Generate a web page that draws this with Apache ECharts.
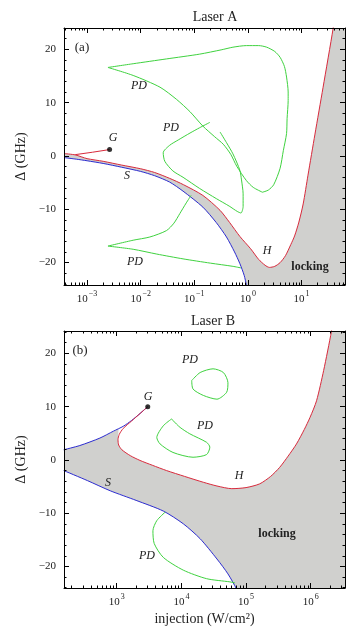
<!DOCTYPE html>
<html><head><meta charset="utf-8">
<script src="https://cdn.jsdelivr.net/npm/echarts@6/dist/echarts.min.js"></script>
<style>html,body{margin:0;padding:0;background:#fff}#c{width:361px;height:632px}</style>
</head><body><div id="c"></div>
<script>
// ---- data: x values are log10(injection), y values are detuning Δ in GHz ----
const xMajorA = [-3, -2, -1, 0, 1];
const xMajorB = [3, 4, 5, 6];
const yMajor = [-20, -10, 0, 10, 20];
const yMinor = [-24, -22, -18, -16, -14, -12, -8, -6, -4, -2, 2, 4, 6, 8, 12, 14, 16, 18, 22, 24];

// Laser A
const gPointA = [[-2.58, 1.2]];
const gBranchA = [[-2.58, 1.2], [-2.9, 0.7], [-3.22, 0.25]];
const redA = [[-3.43, 0.45], [-3.22, 0.2], [-3.0, -0.5], [-2.7, -1.0], [-2.36, -1.7], [-2.0, -2.4], [-1.74, -3.1],
  [-1.46, -4.2], [-1.2, -5.4], [-0.84, -7.4], [-0.52, -10.2], [-0.34, -12.5], [-0.15, -15.1], [0.05, -17.4],
  [0.20, -19.4], [0.32, -20.5], [0.40, -20.9], [0.50, -20.7], [0.60, -20.0], [0.70, -18.7], [0.80, -16.6],
  [0.87, -15.0], [0.95, -12.4], [1.03, -9.0], [1.12, -3.6], [1.25, 4.1], [1.40, 12.8], [1.59, 24.0], [1.68, 30], [1.9, 30]];
const blueA = [[-3.43, -0.3], [-3.2, -0.6], [-3.0, -0.9], [-2.7, -1.4], [-2.36, -2.1], [-2.0, -2.9], [-1.74, -3.7],
  [-1.46, -4.9], [-1.21, -6.6], [-0.84, -9.6], [-0.59, -12.5], [-0.40, -15.2], [-0.25, -18.0], [-0.15, -20.2],
  [-0.07, -22.4], [-0.03, -24.2], [0.0, -26]];
const pd1UpperA = [[-2.61, 16.6], [-2.14, 17.3], [-1.52, 18.2], [-0.90, 19.1], [-0.50, 19.9], [-0.28, 20.4], [-0.03, 20.7],
  [0.20, 20.7], [0.35, 20.4], [0.50, 19.6], [0.60, 18.5], [0.68, 16.8], [0.72, 14.8], [0.75, 12.0], [0.75, 10.4],
  [0.73, 7.0], [0.72, 4.2], [0.66, 1.0], [0.60, -2.3], [0.48, -5.4], [0.38, -6.4], [0.27, -6.8]];
const pd1LowerA = [[-2.61, 16.6], [-2.14, 15.1], [-1.64, 12.9], [-1.33, 10.6], [-1.08, 8.3], [-0.84, 5.6], [-0.62, 3.6],
  [-0.46, 2.2], [-0.32, 0.3], [-0.21, -1.9], [-0.03, -4.6], [0.10, -5.9], [0.27, -6.8]];
const pd2A = [[-0.71, 6.3], [-0.90, 5.3], [-1.08, 4.3], [-1.30, 3.0], [-1.46, 2.0], [-1.58, 0.6], [-1.55, -1.0],
  [-1.40, -2.8], [-1.21, -4.0], [-0.90, -6.1], [-0.59, -8.0], [-0.35, -9.4], [-0.20, -10.4], [-0.13, -10.7],
  [-0.09, -9.5], [-0.09, -7.1], [-0.12, -4.5], [-0.15, -2.7], [-0.28, 0.4], [-0.40, 2.5], [-0.52, 4.5]];
const pd3UpperA = [[-2.61, -16.9], [-2.14, -15.8], [-1.83, -15.2], [-1.52, -14.0], [-1.38, -12.6], [-1.27, -10.8],
  [-1.15, -8.8], [-1.06, -7.4]];
const pd3LowerA = [[-2.61, -16.9], [-2.14, -17.5], [-1.70, -18.4], [-1.21, -19.3], [-0.70, -20.1], [-0.28, -20.7], [-0.13, -21.0]];

// Laser B
const gPointB = [[3.48, 10.0]];
const redB = [[3.48, 10.0], [3.36, 8.7], [3.23, 7.3], [3.10, 5.9], [3.04, 4.8], [3.02, 3.8], [3.03, 2.8], [3.08, 1.9],
  [3.21, 0.8], [3.36, -0.1], [3.55, -1.0], [3.77, -2.0], [4.05, -3.1], [4.34, -4.2], [4.55, -4.9], [4.78, -5.4],
  [5.0, -5.2], [5.21, -4.5], [5.38, -3.1], [5.52, -1.4], [5.65, 0.7], [5.78, 3.0], [5.90, 5.7], [5.99, 8.0],
  [6.09, 11.1], [6.20, 16.8], [6.32, 24.1], [6.40, 30], [6.7, 30]];
const blueUpperB = [[2.18, 1.9], [2.43, 2.7], [2.74, 4.1], [2.95, 5.4], [3.10, 6.3], [3.23, 7.4], [3.36, 8.7], [3.48, 10.0]];
const blueSB = [[2.18, -2.0], [2.55, -3.9], [2.9, -5.8], [3.3, -7.6], [3.72, -9.6], [4.03, -12.0], [4.29, -14.8],
  [4.55, -18.6], [4.72, -21.4], [4.85, -24.2], [4.9, -26]];
const pd1B = [[4.16, 14.9], [4.29, 16.4], [4.49, 17.1], [4.65, 16.4], [4.72, 14.5], [4.70, 12.7], [4.55, 11.4],
  [4.34, 12.1], [4.18, 13.3], [4.16, 14.9]];
const pd2B = [[3.85, 7.7], [3.72, 6.4], [3.62, 4.2], [3.67, 3.0], [3.87, 1.4], [4.18, 0.5], [4.39, 1.0], [4.44, 2.4],
  [4.39, 3.3], [4.13, 4.9], [3.98, 6.1], [3.87, 7.4], [3.85, 7.7]];
const pd3B = [[3.75, -9.8], [3.62, -11.4], [3.56, -13.3], [3.58, -15.7], [3.72, -18.3], [4.03, -20.7], [4.39, -22.3],
  [4.75, -22.9], [4.83, -23.1]];

// ---- styling ----
const SERIF = "'Liberation Serif','DejaVu Serif',serif";
const RED = '#d82a3c', BLUE = '#2c2cd0', GREEN = '#3fd23f', GREY = '#d0d0ce';
const rangeA = { x: [-3.43, 1.81], y: [-24.2, 24] };
const rangeB = { x: [2.185, 6.53], y: [-24.05, 24.2] };

function minorLog(min, max) {
  const out = [];
  for (let n = Math.floor(min); n <= Math.ceil(max); n++)
    for (let k = 2; k <= 9; k++) { const v = n + Math.log10(k); if (v > min && v < max) out.push(v); }
  return out;
}
const supRich = {
  b: { fontSize: 11, fontFamily: SERIF, color: '#222', lineHeight: 15, verticalAlign: 'bottom' },
  s: { fontSize: 8, fontFamily: SERIF, color: '#222', verticalAlign: 'top', padding: [0, 0, 0, 1] }
};
function expLabel(v) { const e = Math.round(v); return '{b|10}{s|' + (e < 0 ? '\u2212' + (-e) : e) + '}'; }
function minusLabel(v) { return v < 0 ? '\u2212' + (-v) : String(v); }
const AXL = { show: true, onZero: false, lineStyle: { color: '#000', width: 1 } };
const NOL = { show: false, onZero: false };

function xAxes(grid, range, majors, name) {
  const base = { type: 'value', gridIndex: grid, min: range.x[0], max: range.x[1], splitLine: { show: false }, z: 10 };
  const minors = minorLog(range.x[0], range.x[1]);
  return [
    Object.assign({}, base, { position: 'bottom', axisLine: AXL,
      axisTick: { show: true, inside: true, length: 5, customValues: majors, lineStyle: { color: '#000' } },
      axisLabel: { show: true, customValues: majors, formatter: expLabel, rich: supRich, margin: 5 },
      name: name || '', nameLocation: 'middle', nameGap: 24, nameTextStyle: { fontFamily: SERIF, fontSize: 14, color: '#222' } }),
    Object.assign({}, base, { position: 'bottom', axisLine: NOL,
      axisTick: { show: true, inside: true, length: 2.5, customValues: minors, lineStyle: { color: '#000' } }, axisLabel: { show: false } }),
    Object.assign({}, base, { position: 'top', axisLine: AXL,
      axisTick: { show: true, inside: true, length: 5, customValues: majors, lineStyle: { color: '#000' } }, axisLabel: { show: false } }),
    Object.assign({}, base, { position: 'top', axisLine: NOL,
      axisTick: { show: true, inside: true, length: 2.5, customValues: minors, lineStyle: { color: '#000' } }, axisLabel: { show: false } })
  ];
}
function yAxes(grid, range) {
  const base = { type: 'value', gridIndex: grid, min: range.y[0], max: range.y[1], splitLine: { show: false }, z: 10 };
  return [
    Object.assign({}, base, { position: 'left', axisLine: AXL,
      axisTick: { show: true, inside: true, length: 5, customValues: yMajor, lineStyle: { color: '#000' } },
      axisLabel: { show: true, customValues: yMajor, formatter: minusLabel, fontFamily: SERIF, fontSize: 11, color: '#222', margin: 8 },
      name: '\u0394 (GHz)', nameLocation: 'middle', nameGap: 28, nameRotate: 90,
      nameTextStyle: { fontFamily: SERIF, fontSize: 14, color: '#222' } }),
    Object.assign({}, base, { position: 'left', axisLine: NOL,
      axisTick: { show: true, inside: true, length: 2.5, customValues: yMinor, lineStyle: { color: '#000' } }, axisLabel: { show: false } }),
    Object.assign({}, base, { position: 'right', axisLine: AXL,
      axisTick: { show: true, inside: true, length: 5, customValues: yMajor, lineStyle: { color: '#000' } }, axisLabel: { show: false } }),
    Object.assign({}, base, { position: 'right', axisLine: NOL,
      axisTick: { show: true, inside: true, length: 2.5, customValues: yMinor, lineStyle: { color: '#000' } }, axisLabel: { show: false } })
  ];
}

function line(panel, data, color, extra) {
  const ax = panel * 4;
  return Object.assign({ type: 'line', xAxisIndex: ax, yAxisIndex: ax, data: data, symbol: 'none', smooth: 0.25,
    silent: true, z: 3, lineStyle: { color: color, width: 1 } }, extra || {});
}
function fill(panel, data, color, z) {
  return line(panel, data, color, { z: z, smooth: 0.2, lineStyle: { opacity: 0, width: 0 },
    areaStyle: { color: color, opacity: 1, origin: 'start' } });
}
function dot(panel, data) {
  const ax = panel * 4;
  return { type: 'scatter', xAxisIndex: ax, yAxisIndex: ax, data: data, symbolSize: 5, itemStyle: { color: '#000' }, z: 6, silent: true };
}

const greyTopB = blueUpperB.filter(p => p[0] < 3.0).concat([[3.03, 5.9]], redB.slice(5));

const series = [
  fill(0, redA, GREY, 1),
  fill(0, blueA, '#ffffff', 2),
  line(0, blueA, BLUE),
  line(0, redA, RED),
  line(0, gBranchA, RED, { smooth: false }),
  line(0, pd1UpperA, GREEN), line(0, pd1LowerA, GREEN), line(0, pd2A, GREEN),
  line(0, pd3UpperA, GREEN), line(0, pd3LowerA, GREEN),
  dot(0, gPointA),
  fill(1, greyTopB, GREY, 1),
  fill(1, blueSB, '#ffffff', 2),
  line(1, blueUpperB, BLUE), line(1, blueSB, BLUE),
  line(1, redB, RED),
  line(1, pd1B, GREEN), line(1, pd2B, GREEN), line(1, pd3B, GREEN),
  dot(1, gPointB)
];

function txt(x, y, s, opt) {
  opt = opt || {};
  return { type: 'text', x: x, y: y, z: 20, silent: true,
    style: { text: s, fill: '#222', font: (opt.style || 'normal') + ' ' + (opt.weight || 'normal') + ' ' + (opt.size || 12) + 'px ' + SERIF,
      align: 'center', verticalAlign: 'middle', textAlign: 'center', textVerticalAlign: 'middle' } };
}
const it = { style: 'italic', size: 12 };
const graphics = [
  txt(215, 17, 'Laser A', { size: 14 }), txt(213, 321, 'Laser B', { size: 14 }),
  txt(82, 48, '(a)', { size: 13 }), txt(80, 351, '(b)', { size: 13 }),
  txt(139, 86, 'PD', it), txt(171, 128, 'PD', it), txt(135, 262, 'PD', it),
  txt(113, 138, 'G', it), txt(127, 176, 'S', it), txt(267, 251, 'H', it),
  txt(310, 267, 'locking', { weight: 'bold', size: 12 }),
  txt(190, 360, 'PD', it), txt(205, 426, 'PD', it), txt(147, 556, 'PD', it),
  txt(148, 397, 'G', it), txt(239, 476, 'H', it), txt(108, 483, 'S', it),
  txt(277, 534, 'locking', { weight: 'bold', size: 12 })
];

const chart = echarts.init(document.getElementById('c'), null, { renderer: 'canvas' });
chart.setOption({
  animation: false,
  backgroundColor: '#fff',
  grid: [
    { left: 64, top: 28, width: 281, height: 257 },
    { left: 64, top: 331, width: 281, height: 257 }
  ],
  xAxis: xAxes(0, rangeA, xMajorA).concat(xAxes(1, rangeB, xMajorB, 'injection (W/cm\u00B2)')),
  yAxis: yAxes(0, rangeA).concat(yAxes(1, rangeB)),
  series: series,
  graphic: graphics
});
</script>
</body></html>
